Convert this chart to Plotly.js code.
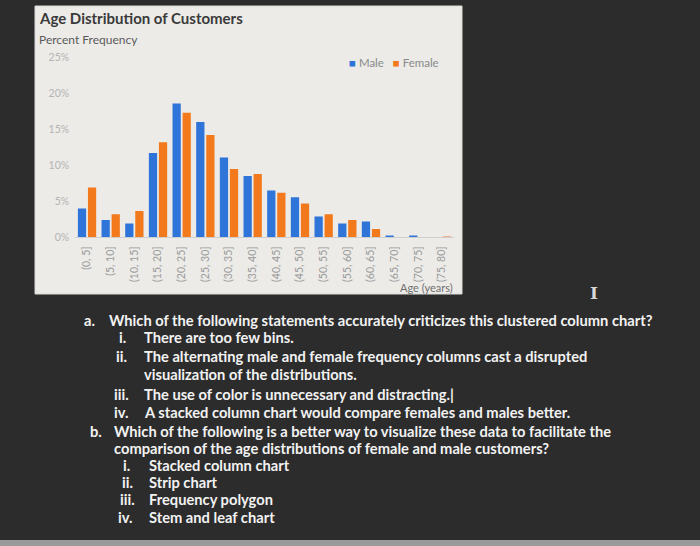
<!DOCTYPE html>
<html>
<head>
<meta charset="utf-8">
<script src="https://cdn.plot.ly/plotly-3.0.1.min.js"></script>
<style>html,body{margin:0;padding:0;background:#2c2c2c;}#chart{width:700px;height:546px;}</style>
</head>
<body>
<div id="chart"></div>
<script>
// ---- data ----
const ageBins = ["(0, 5]","(5, 10]","(10, 15]","(15, 20]","(20, 25]","(25, 30]","(30, 35]","(35, 40]",
                 "(40, 45]","(45, 50]","(50, 55]","(55, 60]","(60, 65]","(65, 70]","(70, 75]","(75, 80]"];
const malePct   = [4.0, 2.4, 1.9, 11.7, 18.6, 16.0, 11.1, 8.5, 6.5, 5.55, 2.9, 1.9, 2.2, 0.25, 0.25, 0.0];
const femalePct = [6.9, 3.2, 3.65, 13.2, 17.3, 14.2, 9.5, 8.8, 6.2, 4.7, 3.2, 2.4, 1.15, 0.0, 0.0, 0.1];
const yTickVals = [0, 5, 10, 15, 20, 25];
const yTickText = ["0%", "5%", "10%", "15%", "20%", "25%"];

const questionA = "Which of the following statements accurately criticizes this clustered column chart?";
const optionsA = [
  ["i.",   ["There are too few bins."]],
  ["ii.",  ["The alternating male and female frequency columns cast a disrupted", "visualization of the distributions."]],
  ["iii.", ["The use of color is unnecessary and distracting.|"]],
  ["iv.",  ["A stacked column chart would compare females and males better."]]
];
const questionB = ["Which of the following is a better way to visualize these data to facilitate the",
                   "comparison of the age distributions of female and male customers?"];
const optionsB = [["i.","Stacked column chart"],["ii.","Strip chart"],["iii.","Frequency polygon"],["iv.","Stem and leaf chart"]];

// ---- helpers ----
const W = 700, H = 546;
const px = x => x / W;
const py = y => 1 - y / H;
const BLUE = "#2f74d8", ORANGE = "#f27a1c";
const txtFont = {family: "Lato, 'Open Sans', sans-serif", size: 14.7, color: "#f2f2f2", weight: 700};

const traces = [
  {type: "bar", name: "Male", x: ageBins, y: malePct, marker: {color: BLUE}, hoverinfo: "x+y"},
  {type: "bar", name: "Female", x: ageBins, y: femalePct, marker: {color: ORANGE}, hoverinfo: "x+y"}
];

const ann = [];
function addText(x, y, text, font, extra) {
  ann.push(Object.assign({xref: "paper", yref: "paper", x: px(x), y: py(y), text: text, showarrow: false,
    xanchor: "left", yanchor: "middle", font: font}, extra || {}));
}
// chart texts
addText(37, 18, "Age Distribution of Customers", {family: "Lato, sans-serif", size: 15, color: "#3a3a3a", weight: 700});
addText(37, 40, "Percent Frequency", {family: "Lato, sans-serif", size: 12, color: "#5a5a5a"});
addText(455, 287, "Age (years)", {family: "Lato, sans-serif", size: 11, color: "#6f6f6f"}, {xanchor: "right"});
addText(347, 62, '<span style="color:' + BLUE + '">■</span> Male   <span style="color:' + ORANGE + '">■</span> Female',
        {family: "Lato, sans-serif", size: 11.5, color: "#8a8a8a"});
// cursor glyph
addText(594, 293, "I", {family: "'DejaVu Serif', serif", size: 17, color: "#d8d8d8", weight: 700}, {xanchor: "center"});

// question a
addText(82, 320, "a.", txtFont);
addText(107, 320, questionA, txtFont);
const aRows = [[117, 337], [114, 356], [112, 394], [112, 412]];
optionsA.forEach((o, k) => {
  const [nx, ny] = aRows[k];
  addText(nx, ny, o[0], txtFont);
  o[1].forEach((line, j) => addText(142, ny + j * 18, line, txtFont));
});
// question b
addText(88, 431, "b.", txtFont);
questionB.forEach((line, j) => addText(112, 431 + j * 17, line, txtFont));
const bRows = [[121, 465], [120, 482], [118, 499], [116, 517]];
optionsB.forEach((o, k) => {
  addText(bRows[k][0], bRows[k][1], o[0], txtFont);
  addText(147, bRows[k][1], o[1], txtFont);
});

const layout = {
  width: W, height: H,
  margin: {l: 0, r: 0, t: 0, b: 0},
  paper_bgcolor: "#2c2c2c",
  plot_bgcolor: "rgba(0,0,0,0)",
  showlegend: false,
  barmode: "group",
  bargap: 0.15,
  bargroupgap: 0.18,
  xaxis: {
    domain: [px(75.2), px(453.8)],
    type: "category",
    tickangle: -90,
    ticks: "",
    ticklabelstandoff: 4,
    tickfont: {family: "Lato, sans-serif", size: 10.5, color: "#9a9a9a"},
    showgrid: false,
    showline: true, linecolor: "#cfcfcf", linewidth: 1,
    zeroline: false,
    fixedrange: true
  },
  yaxis: {
    domain: [py(237.3), py(57.3)],
    range: [0, 25],
    tickmode: "array",
    tickvals: yTickVals,
    ticktext: yTickText,
    ticks: "",
    ticklabelstandoff: 5,
    tickfont: {family: "Lato, sans-serif", size: 10.5, color: "#b4b4b4"},
    showgrid: false,
    zeroline: false,
    showline: false,
    fixedrange: true
  },
  shapes: [
    {type: "rect", xref: "paper", yref: "paper", x0: px(35), x1: px(462), y0: py(294), y1: py(6),
     fillcolor: "#ecebe8", line: {color: "#d9d9d6", width: 1}, layer: "below"},
    {type: "rect", xref: "paper", yref: "paper", x0: 0, x1: 1, y0: 0, y1: py(540),
     fillcolor: "#9a9a9a", line: {width: 0}, layer: "below"}
  ],
  annotations: ann
};

Plotly.newPlot("chart", traces, layout, {displayModeBar: false, staticPlot: true});
</script>
</body>
</html>
